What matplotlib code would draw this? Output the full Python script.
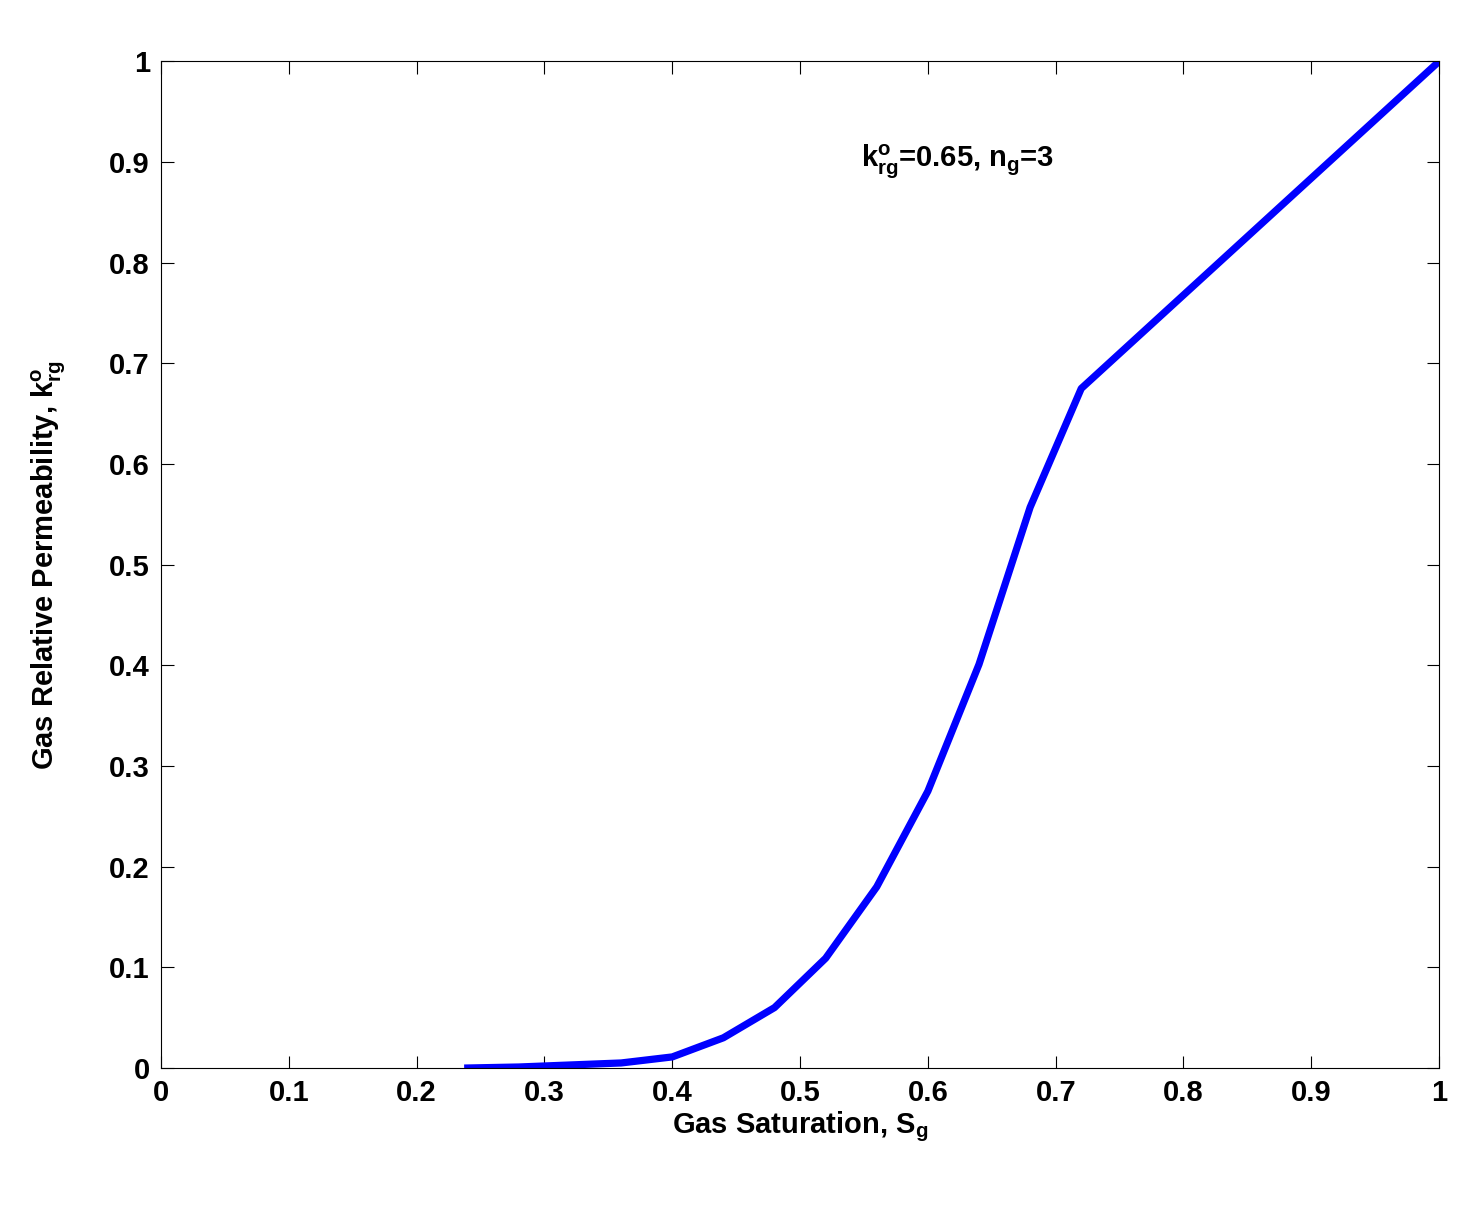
import matplotlib
matplotlib.use("Agg")
import matplotlib.pyplot as plt

# Gas relative permeability curve
sg = [0.24, 0.28, 0.32, 0.36, 0.40, 0.44, 0.48, 0.52, 0.56, 0.60, 0.64, 0.68, 0.72, 1.00]
krg = [0.0, 0.001, 0.003, 0.005, 0.011, 0.030, 0.060, 0.109, 0.180, 0.275, 0.401, 0.557, 0.675, 1.0]
ticks = [0, 0.1, 0.2, 0.3, 0.4, 0.5, 0.6, 0.7, 0.8, 0.9, 1]
tick_labels = ["0", "0.1", "0.2", "0.3", "0.4", "0.5", "0.6", "0.7", "0.8", "0.9", "1"]

plt.rcParams["font.family"] = ["Liberation Sans", "DejaVu Sans"]
plt.rcParams["font.weight"] = "bold"
plt.rcParams["mathtext.fontset"] = "custom"
plt.rcParams["mathtext.rm"] = "Liberation Sans:bold"
plt.rcParams["mathtext.it"] = "Liberation Sans:bold"
plt.rcParams["mathtext.bf"] = "Liberation Sans:bold"
plt.rcParams["mathtext.default"] = "rm"

fig = plt.figure(figsize=(14.64, 12.05), dpi=100)
ax = fig.add_axes([0.110, 0.1137, 0.873, 0.8354])
ax.plot(sg, krg, color="#0000ff", linewidth=5.2)

ax.set_xlim(0, 1)
ax.set_ylim(0, 1)
ax.set_xticks(ticks)
ax.set_xticklabels(tick_labels)
ax.set_yticks(ticks)
ax.set_yticklabels(tick_labels)
ax.tick_params(direction="in", length=9, top=True, right=True, labelsize=21, pad=8)
for s in ax.spines.values():
    s.set_linewidth(0.8)

ax.set_xlabel(r"Gas Saturation, S$_\mathrm{g}$", fontsize=21, fontweight="bold", labelpad=2)
ax.set_ylabel(r"Gas Relative Permeability, k$^\mathrm{o}_\mathrm{rg}$", fontsize=21,
              fontweight="bold", labelpad=30)
ax.text(0.548, 0.9, r"k$^\mathrm{o}_\mathrm{rg}$=0.65, n$_\mathrm{g}$=3", fontsize=21,
        fontweight="bold", va="center", ha="left")

fig.savefig("out.png", dpi=100)
